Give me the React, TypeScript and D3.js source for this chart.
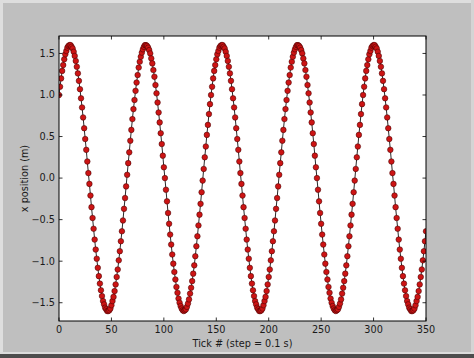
import React from "react";
import * as d3 from "d3";

// x position (m) for tick # 0..350 (step = 0.1 s)
const positions: number[] = [
  1.00, 1.10, 1.20, 1.29, 1.36, 1.43, 1.49, 1.53, 1.57, 1.59,
  1.60, 1.60, 1.58, 1.56, 1.52, 1.47, 1.41, 1.34, 1.26, 1.17,
  1.07, 0.96, 0.85, 0.73, 0.60, 0.47, 0.34, 0.20, 0.06, -0.07,
  -0.21, -0.35, -0.48, -0.61, -0.74, -0.86, -0.97, -1.08, -1.18, -1.27,
  -1.35, -1.42, -1.48, -1.52, -1.56, -1.58, -1.60, -1.60, -1.59, -1.57,
  -1.53, -1.48, -1.43, -1.36, -1.28, -1.19, -1.10, -0.99, -0.88, -0.76,
  -0.64, -0.51, -0.37, -0.24, -0.10, 0.04, 0.18, 0.31, 0.45, 0.58,
  0.71, 0.83, 0.94, 1.05, 1.15, 1.24, 1.33, 1.40, 1.46, 1.51,
  1.55, 1.58, 1.60, 1.60, 1.59, 1.57, 1.54, 1.50, 1.44, 1.38,
  1.30, 1.22, 1.12, 1.02, 0.91, 0.79, 0.67, 0.54, 0.41, 0.27,
  0.13, 0.00, -0.14, -0.28, -0.42, -0.55, -0.68, -0.80, -0.92, -1.03,
  -1.13, -1.22, -1.31, -1.38, -1.45, -1.50, -1.54, -1.57, -1.59, -1.60,
  -1.59, -1.58, -1.55, -1.51, -1.46, -1.39, -1.32, -1.24, -1.15, -1.05,
  -0.94, -0.82, -0.70, -0.57, -0.44, -0.31, -0.17, -0.03, 0.11, 0.25,
  0.38, 0.52, 0.64, 0.77, 0.89,
  1.00, 1.10, 1.20, 1.29, 1.36, 1.43, 1.49, 1.53, 1.57, 1.59,
  1.60, 1.60, 1.58, 1.56, 1.52, 1.47, 1.41, 1.34, 1.26, 1.17,
  1.07, 0.96, 0.85, 0.73, 0.60, 0.47, 0.34, 0.20, 0.06, -0.07,
  -0.21, -0.35, -0.48, -0.61, -0.74, -0.86, -0.97, -1.08, -1.18, -1.27,
  -1.35, -1.42, -1.48, -1.52, -1.56, -1.58, -1.60, -1.60, -1.59, -1.57,
  -1.53, -1.48, -1.43, -1.36, -1.28, -1.19, -1.10, -0.99, -0.88, -0.76,
  -0.64, -0.51, -0.37, -0.24, -0.10, 0.04, 0.18, 0.31, 0.45, 0.58,
  0.71, 0.83, 0.94, 1.05, 1.15, 1.24, 1.33, 1.40, 1.46, 1.51,
  1.55, 1.58, 1.60, 1.60, 1.59, 1.57, 1.54, 1.50, 1.44, 1.38,
  1.30, 1.22, 1.12, 1.02, 0.91, 0.79, 0.67, 0.54, 0.41, 0.27,
  0.13, 0.00, -0.14, -0.28, -0.42, -0.55, -0.68, -0.80, -0.92, -1.03,
  -1.13, -1.22, -1.31, -1.38, -1.45, -1.50, -1.54, -1.57, -1.59, -1.60,
  -1.59, -1.58, -1.55, -1.51, -1.46, -1.39, -1.32, -1.24, -1.15, -1.05,
  -0.94, -0.82, -0.70, -0.57, -0.44, -0.31, -0.17, -0.03, 0.11, 0.25,
  0.38, 0.52, 0.64, 0.77, 0.89,
  1.00, 1.10, 1.20, 1.29, 1.36, 1.43, 1.49, 1.53, 1.57, 1.59,
  1.60, 1.60, 1.58, 1.56, 1.52, 1.47, 1.41, 1.34, 1.26, 1.17,
  1.07, 0.96, 0.85, 0.73, 0.60, 0.47, 0.34, 0.20, 0.06, -0.07,
  -0.21, -0.35, -0.48, -0.61, -0.74, -0.86, -0.97, -1.08, -1.18, -1.27,
  -1.35, -1.42, -1.48, -1.52, -1.56, -1.58, -1.60, -1.60, -1.59, -1.57,
  -1.53, -1.48, -1.43, -1.36, -1.28, -1.19, -1.10, -0.99, -0.88, -0.76,
  -0.64,
];

const xTicks: number[] = [0, 50, 100, 150, 200, 250, 300, 350];
const yTicks: number[] = [-1.5, -1.0, -0.5, 0.0, 0.5, 1.0, 1.5];
const xDomain: [number, number] = [0, 350];
const yDomain: [number, number] = [-1.72, 1.71];
const xLabel = "Tick # (step = 0.1 s)";
const yLabel = "x position (m)";

const W = 474;
const H = 358;
const plot = { left: 59, right: 426, top: 36, bottom: 321 };
const FONT = "'DejaVu Sans', sans-serif";
const FS = 9.7;
const TICK = 3.5;

export default function App() {
  const x = d3.scaleLinear().domain(xDomain).range([plot.left, plot.right]);
  const y = d3.scaleLinear().domain(yDomain).range([plot.bottom, plot.top]);
  const pts = positions.map((v, i) => [i, v] as [number, number]);
  const line = d3
    .line<[number, number]>()
    .x((d) => x(d[0]))
    .y((d) => y(d[1]));
  const fmt = (v: number) => d3.format(".1f")(v).replace("-", "\u2212");

  return (
    <svg
      width={W}
      height={H}
      style={{ position: "absolute", left: 0, top: 0, display: "block" }}
    >
      {/* window chrome */}
      <rect x={0} y={0} width={W} height={H} fill="#bfbfbf" />
      <rect x={0} y={0} width={W} height={3} fill="#dedede" />
      <rect x={0} y={0} width={3} height={H} fill="#dedede" />
      <rect x={W - 3} y={0} width={3} height={H} fill="#d4d4d4" />
      <rect x={0} y={352} width={W} height={2} fill="#dcdcdc" />
      <rect x={0} y={354} width={W} height={4} fill="#4d4d4d" />

      {/* axes background */}
      <rect
        x={plot.left}
        y={plot.top}
        width={plot.right - plot.left}
        height={plot.bottom - plot.top}
        fill="#ffffff"
      />

      <clipPath id="clip">
        <rect
          x={plot.left}
          y={plot.top}
          width={plot.right - plot.left}
          height={plot.bottom - plot.top}
        />
      </clipPath>

      <g clipPath="url(#clip)">
        <path d={line(pts) || ""} fill="none" stroke="#2a2a2a" strokeWidth={1} />
        {pts.map((d) => (
          <circle
            key={d[0]}
            cx={x(d[0])}
            cy={y(d[1])}
            r={2.8}
            fill="#cc1414"
            stroke="#3a0000"
            strokeWidth={0.5}
          />
        ))}
      </g>

      {/* ticks, inward on all sides */}
      {xTicks.map((t) => (
        <g key={"xt" + t}>
          <line x1={x(t)} x2={x(t)} y1={plot.bottom} y2={plot.bottom - TICK} stroke="#000" strokeWidth={0.8} />
          <line x1={x(t)} x2={x(t)} y1={plot.top} y2={plot.top + TICK} stroke="#000" strokeWidth={0.8} />
          <text
            x={x(t)}
            y={plot.bottom + 11.5}
            textAnchor="middle"
            fontFamily={FONT}
            fontSize={FS}
            fill="#1a1a1a"
          >
            {t}
          </text>
        </g>
      ))}
      {yTicks.map((t) => (
        <g key={"yt" + t}>
          <line x1={plot.left} x2={plot.left + TICK} y1={y(t)} y2={y(t)} stroke="#000" strokeWidth={0.8} />
          <line x1={plot.right} x2={plot.right - TICK} y1={y(t)} y2={y(t)} stroke="#000" strokeWidth={0.8} />
          <text
            x={plot.left - 4}
            y={y(t)}
            dy="0.35em"
            textAnchor="end"
            fontFamily={FONT}
            fontSize={FS}
            fill="#1a1a1a"
          >
            {fmt(t)}
          </text>
        </g>
      ))}

      {/* frame */}
      <rect
        x={plot.left}
        y={plot.top}
        width={plot.right - plot.left}
        height={plot.bottom - plot.top}
        fill="none"
        stroke="#000"
        strokeWidth={1}
      />

      <text
        x={(plot.left + plot.right) / 2}
        y={346.5}
        textAnchor="middle"
        fontFamily={FONT}
        fontSize={FS}
        fill="#1a1a1a"
      >
        {xLabel}
      </text>
      <text
        transform={`translate(28,${(plot.top + plot.bottom) / 2}) rotate(-90)`}
        textAnchor="middle"
        fontFamily={FONT}
        fontSize={FS}
        fill="#1a1a1a"
      >
        {yLabel}
      </text>
    </svg>
  );
}
